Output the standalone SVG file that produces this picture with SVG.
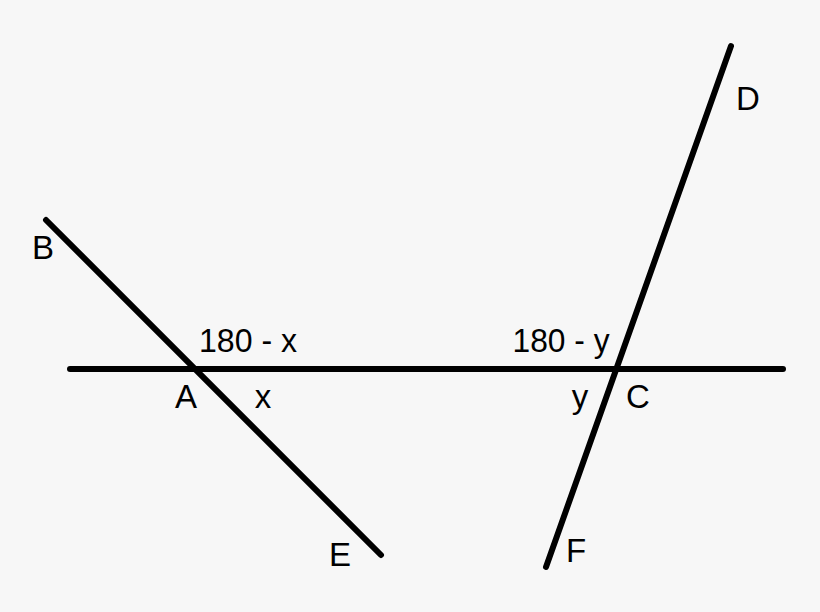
<svg xmlns="http://www.w3.org/2000/svg" width="820" height="612" viewBox="0 0 820 612">
<style>
.ln{stroke:#000;stroke-width:6;stroke-linecap:round;fill:none}
.lb{font-family:"Liberation Sans",Arial,sans-serif;font-size:33px;fill:#000;text-anchor:middle}
</style>
<rect width="820" height="612" fill="#f7f7f7"/>
<g id="connectors">
<line class="ln" x1="70" y1="369" x2="783" y2="369"/>
<line class="ln" x1="46" y1="220" x2="381" y2="555"/>
<line class="ln" x1="731" y1="46" x2="546" y2="567"/>
</g>
<g id="A"><text class="lb" x="186" y="408">A</text></g>
<g id="B"><text class="lb" x="43" y="259">B</text></g>
<g id="C"><text class="lb" x="638" y="408">C</text></g>
<g id="D"><text class="lb" x="748" y="110">D</text></g>
<g id="E"><text class="lb" x="340" y="566">E</text></g>
<g id="F"><text class="lb" x="576" y="562">F</text></g>
<g id="angle-labels">
<text class="lb" x="248" y="352" textLength="98" lengthAdjust="spacingAndGlyphs">180 - x</text>
<text class="lb" x="263" y="408">x</text>
<text class="lb" x="561" y="352" textLength="97" lengthAdjust="spacingAndGlyphs">180 - y</text>
<text class="lb" x="580" y="408">y</text>
</g>
</svg>
